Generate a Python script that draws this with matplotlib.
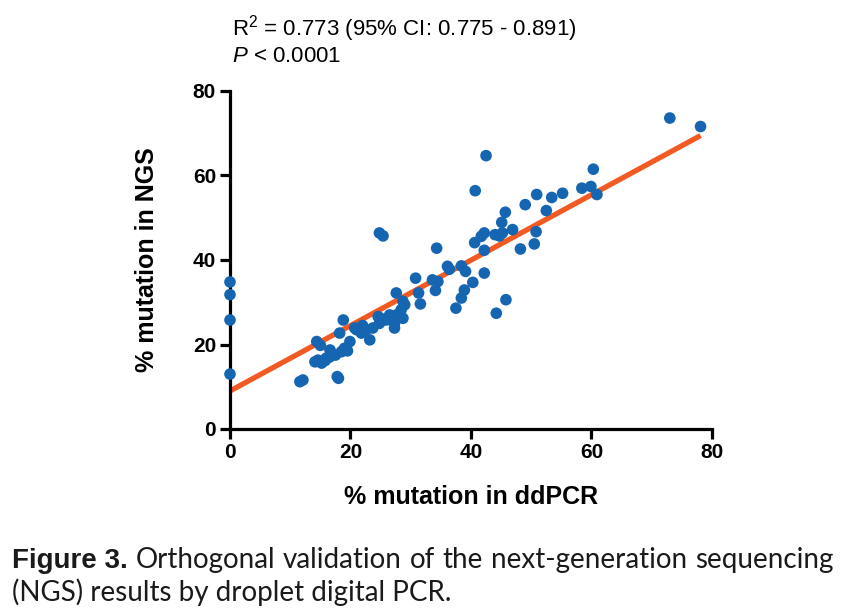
import numpy as np
import matplotlib
matplotlib.use("Agg")
import matplotlib.pyplot as plt

plt.rcParams["mathtext.fontset"] = "custom"
plt.rcParams["mathtext.rm"] = "Liberation Sans"
plt.rcParams["mathtext.it"] = "Liberation Sans:italic"

# ---- data ----
ddpcr = [0, 0, 0, 0,
         11.6, 12.1, 17.8, 18.0,
         14.4, 14.1, 14.6, 15.2, 15.8, 16.0, 16.6, 16.5, 17.5, 18.5, 19.0, 19.9, 18.2, 18.8, 15.0, 19.5,
         21.0, 21.8, 23.2, 22.6, 23.7, 24.8, 25.9, 26.5, 27.3, 24.6, 26.8, 27.3, 27.6, 28.7, 28.4, 27.6,
         28.7, 29.0, 20.7, 22.0, 25.4, 24.8, 25.4,
         30.8, 31.3, 31.6, 33.6, 34.5, 34.1, 34.3, 36.1, 36.4, 38.4, 39.1, 40.3, 38.9, 38.4, 37.5,
         42.2, 42.2, 40.6, 41.7, 42.2, 44.0, 44.7, 45.2, 46.9, 45.1, 45.7, 45.8, 44.2, 40.7, 42.5, 48.2, 49.0,
         50.5, 50.8, 50.9, 52.5, 53.4, 55.2, 58.4, 59.9, 60.3, 60.9, 73.0, 78.1]
ngs = [34.8, 31.8, 25.8, 13.0,
       11.2, 11.6, 12.4, 12.0,
       20.7, 15.9, 16.3, 15.6, 16.2, 16.8, 18.7, 17.0, 17.5, 18.3, 19.1, 20.7, 22.7, 25.8, 19.8, 18.5,
       23.5, 22.7, 21.1, 23.5, 23.9, 25.0, 25.8, 27.0, 25.0, 26.6, 26.5, 23.9, 27.0, 26.2, 28.2, 32.2,
       30.2, 29.4, 23.9, 24.5, 26.0, 46.4, 45.7,
       35.7, 32.2, 29.6, 35.3, 34.9, 32.8, 42.8, 38.5, 37.8, 38.6, 37.3, 34.7, 32.9, 31.0, 28.6,
       36.9, 42.3, 44.1, 45.6, 46.4, 46.0, 45.7, 46.4, 47.2, 48.9, 51.3, 30.6, 27.4, 56.4, 64.7, 42.6, 53.1,
       43.8, 46.7, 55.5, 51.7, 54.8, 55.8, 57.0, 57.4, 61.5, 55.5, 73.6, 71.6]
fit_intercept = 9.0
fit_slope = 0.774
fit_range = [0, 78.1]
ticks = [0, 20, 40, 60, 80]

title_line1 = "R$^2$ = 0.773 (95% CI: 0.775 - 0.891)"
title_line2 = "$\\mathit{P}$ < 0.0001"
caption_bold = "Figure 3."
caption_rest1 = "Orthogonal validation of the next-generation sequencing"
caption_line2 = "(NGS) results by droplet digital PCR."

W, H = 845, 613
fig = plt.figure(figsize=(W / 100, H / 100), dpi=100)
ax = fig.add_axes([230 / W, (H - 429) / H, 482 / W, (429 - 91) / H])

blue = "#1565b0"
orange = "#f15a22"

xs = np.array(fit_range)
ax.plot(xs, fit_intercept + fit_slope * xs, color=orange, lw=3.8, solid_capstyle="butt",
        zorder=2, clip_on=False)
ax.scatter(ddpcr, ngs, s=70, color=blue, edgecolors="none", zorder=3, clip_on=False)

ax.set_xlim(0, 80)
ax.set_ylim(0, 80)
ax.set_xticks(ticks)
ax.set_yticks(ticks)
for s in ["top", "right"]:
    ax.spines[s].set_visible(False)
for s in ["left", "bottom"]:
    ax.spines[s].set_linewidth(2.3)
ax.tick_params(width=2.3, length=7, direction="out", pad=3)
for lab in ax.get_xticklabels() + ax.get_yticklabels():
    lab.set_fontfamily("Liberation Sans")
    lab.set_fontweight("bold")
    lab.set_fontsize(15)

ax.set_xlabel("% mutation in ddPCR", fontsize=18, fontweight="bold", family="Liberation Sans")
ax.xaxis.set_label_coords(0.5, -0.165)
ax.set_ylabel("% mutation in NGS", fontsize=18, fontweight="bold", family="Liberation Sans")
ax.yaxis.set_label_coords(-0.148, 0.5)

fig.text(232 / W, 1 - 36 / H, title_line1, fontsize=16, family="Liberation Sans",
         ha="left", va="baseline")
fig.text(232 / W, 1 - 62 / H, title_line2, fontsize=16, family="Liberation Sans",
         ha="left", va="baseline")

# ---- caption, justified line 1 ----
cap_fam = ["Lato", "DejaVu Sans"]
renderer = fig.canvas.get_renderer()
left_px, right_px = 12, 833
target = right_px - left_px


def build(size):
    words = [(caption_bold, "bold", ["Liberation Sans", "DejaVu Sans"])] + \
            [(w, "normal", cap_fam) for w in caption_rest1.split()]
    ts, ws = [], []
    for w, wt, fam in words:
        t = fig.text(0, 0, w, fontsize=size, family=fam, fontweight=wt,
                     color="#1a1a1a", ha="left", va="baseline")
        ts.append(t)
        ws.append(t.get_window_extent(renderer).width)
    return ts, ws


cap_size = 20
texts, widths = build(cap_size)
space = 0.22 * cap_size * 100 / 72
while sum(widths) + space * (len(widths) - 1) > target and cap_size > 10:
    for t in texts:
        t.remove()
    cap_size -= 0.25
    space = 0.22 * cap_size * 100 / 72
    texts, widths = build(cap_size)

gap = (target - sum(widths)) / (len(texts) - 1)
x = left_px
for t, wd in zip(texts, widths):
    t.set_position((x / W, 1 - 568 / H))
    x += wd + gap
fig.text(left_px / W, 1 - 601 / H, caption_line2, fontsize=cap_size, family=cap_fam,
         fontweight="normal", color="#1a1a1a", ha="left", va="baseline")

fig.savefig("out.png", dpi=100)
